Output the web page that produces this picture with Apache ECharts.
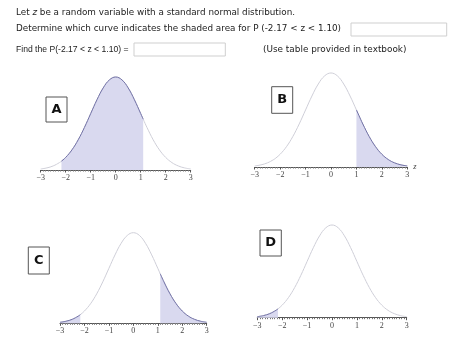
<!DOCTYPE html>
<html><head><meta charset="utf-8">
<script src="https://cdn.jsdelivr.net/npm/echarts@6/dist/echarts.min.js"></script>
<style>html,body{margin:0;padding:0;background:#fff}#c{width:474px;height:348px}</style>
</head><body><div id="c"></div>
<script>
// z positions and standard normal density values
var curveZ = [-3, -2.75, -2.5, -2.25, -2.17, -2, -1.75, -1.5, -1.25, -1, -0.75, -0.5, -0.25, 0, 0.25, 0.5, 0.75, 1, 1.1, 1.25, 1.5, 1.75, 2, 2.25, 2.5, 2.75, 3];
var curveY = [0.0044, 0.0091, 0.0175, 0.0317, 0.0379, 0.0540, 0.0863, 0.1295, 0.1826, 0.2420, 0.3011, 0.3521, 0.3867, 0.3989, 0.3867, 0.3521, 0.3011, 0.2420, 0.2179, 0.1826, 0.1295, 0.0863, 0.0540, 0.0317, 0.0175, 0.0091, 0.0044];
var panelNames = ['A', 'B', 'C', 'D'];
var shadeA = [[-2.17, 1.10]];
var shadeB = [[1, 3]];
var shadeC = [[-3, -2.17], [1.10, 3]];
var shadeD = [[-3, -2.17]];
var tickLabels = [-3, -2, -1, 0, 1, 2, 3];
var questionLines = ['Determine which curve indicates the shaded area for P (-2.17 < z < 1.10)', 'Find the P(-2.17 < z < 1.10) =', '(Use table provided in textbook)'];

var shades = [shadeA, shadeB, shadeC, shadeD];
var grids = [
  {left: 40.7, top: 72.1, width: 150, height: 97.9},
  {left: 254.7, top: 68, width: 152.6, height: 99},
  {left: 60, top: 227.9, width: 146.7, height: 95.4},
  {left: 257.3, top: 220.1, width: 149.4, height: 97.6}
];
var boxes = [
  {x: 46, y: 97, w: 21, h: 25},
  {x: 271.7, y: 86.7, w: 21, h: 26.6},
  {x: 28.3, y: 247, w: 21, h: 27},
  {x: 260, y: 230, w: 21.3, h: 26}
];

var pts = curveZ.map(function (z, i) { return [z, curveY[i]]; });
function seg(a, b) { return pts.filter(function (p) { return p[0] >= a - 1e-9 && p[0] <= b + 1e-9; }); }

var xAxes = [], yAxes = [], series = [];
grids.forEach(function (g, i) {
  xAxes.push({
    gridIndex: i, type: 'value', min: -3, max: 3, interval: 1,
    name: i === 1 ? 'z' : '', nameGap: 6,
    nameTextStyle: {fontFamily: 'Liberation Serif', fontSize: 8.5, color: '#444', fontStyle: 'italic'},
    axisLine: {show: true, onZero: false, lineStyle: {color: '#555', width: 1}},
    axisTick: {show: true, length: 2.5, lineStyle: {color: '#555'}},
    minorTick: {show: true, splitNumber: 10, length: 1.5, lineStyle: {color: '#777'}},
    splitLine: {show: false},
    axisLabel: {fontFamily: 'Liberation Serif', fontSize: 8, color: '#444', margin: 4,
      formatter: function (v) { return tickLabels.indexOf(v) >= 0 ? String(v).replace('-', '\u2212') : ''; }}
  });
  yAxes.push({gridIndex: i, type: 'value', min: 0, max: 0.42, show: false});
  series.push({type: 'line', xAxisIndex: i, yAxisIndex: i, data: pts, smooth: 0.4, symbol: 'none',
    lineStyle: {color: '#cfcfd8', width: 1}, silent: true, z: 2});
  shades[i].forEach(function (r) {
    series.push({type: 'line', xAxisIndex: i, yAxisIndex: i, data: seg(r[0], r[1]), smooth: 0.4, symbol: 'none',
      lineStyle: {color: '#7272a6', width: 1}, areaStyle: {color: '#d9d9ef', opacity: 1}, silent: true, z: 3});
  });
});

var graphic = [
  {type: 'text', left: 16, top: 8.5, style: {text: '{a|Let }{i|z}{a| be a random variable with a standard normal distribution.}',
    rich: {a: {fontFamily: 'DejaVu Sans', fontSize: 8.8, fill: '#222'}, i: {fontFamily: 'DejaVu Sans', fontSize: 8.8, fontStyle: 'italic', fill: '#222'}}}},
  {type: 'text', left: 16, top: 24, style: {text: questionLines[0], font: '8.8px "DejaVu Sans"', fill: '#222'}},
  {type: 'rect', shape: {x: 351, y: 23, width: 95.7, height: 13}, style: {fill: '#fff', stroke: '#cfcfcf', lineWidth: 1}},
  {type: 'text', left: 16, top: 45, style: {text: questionLines[1], font: '8.6px "Liberation Sans"', fill: '#222'}},
  {type: 'rect', shape: {x: 134, y: 43, width: 91.3, height: 13}, style: {fill: '#fff', stroke: '#cfcfcf', lineWidth: 1}},
  {type: 'text', left: 263, top: 45, style: {text: questionLines[2], font: '8.9px "DejaVu Sans"', fill: '#222'}}
];
boxes.forEach(function (b, i) {
  graphic.push({type: 'rect', shape: {x: b.x, y: b.y, width: b.w, height: b.h}, style: {fill: '#fff', stroke: '#555', lineWidth: 1}, z: 10});
  graphic.push({type: 'text', x: b.x + b.w / 2, y: b.y + b.h / 2, style: {text: panelNames[i], font: 'bold 13px "DejaVu Sans"', fill: '#111', textAlign: 'center', textVerticalAlign: 'middle'}, z: 11});
});

var chart = echarts.init(document.getElementById('c'), null, {renderer: 'canvas'});
chart.setOption({animation: false, grid: grids, xAxis: xAxes, yAxis: yAxes, series: series, graphic: graphic});
</script></body></html>
